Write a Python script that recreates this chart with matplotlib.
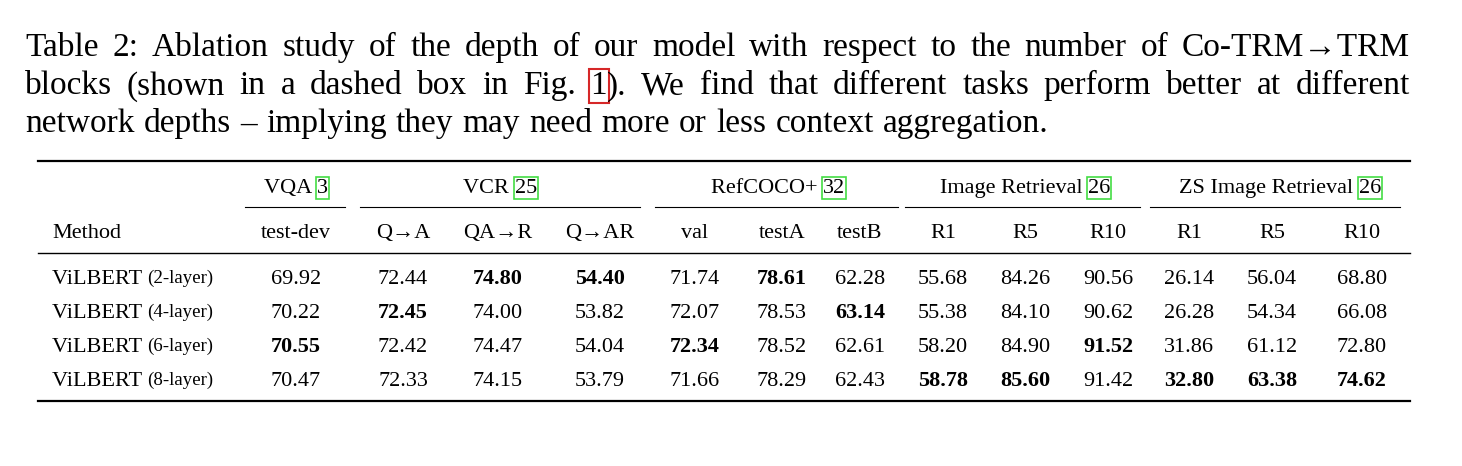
import matplotlib
matplotlib.use("Agg")
import matplotlib.pyplot as plt

methods = ["ViLBERT (2-layer)", "ViLBERT (4-layer)", "ViLBERT (6-layer)", "ViLBERT (8-layer)"]
columns = ["test-dev", "Q→A", "QA→R", "Q→AR", "val", "testA", "testB",
           "R1", "R5", "R10", "R1", "R5", "R10"]
values = [
    [69.92, 72.44, 74.80, 54.40, 71.74, 78.61, 62.28, 55.68, 84.26, 90.56, 26.14, 56.04, 68.80],
    [70.22, 72.45, 74.00, 53.82, 72.07, 78.53, 63.14, 55.38, 84.10, 90.62, 26.28, 54.34, 66.08],
    [70.55, 72.42, 74.47, 54.04, 72.34, 78.52, 62.61, 58.20, 84.90, 91.52, 31.86, 61.12, 72.80],
    [70.47, 72.33, 74.15, 53.79, 71.66, 78.29, 62.43, 58.78, 85.60, 91.42, 32.80, 63.38, 74.62],
]
groups = [("VQA", "3"), ("VCR", "25"), ("RefCOCO+", "32"), ("Image Retrieval", "26"), ("ZS Image Retrieval", "26")]
caption = [
    "Table 2: Ablation study of the depth of our model with respect to the number of Co-TRM→TRM",
    "blocks (shown in a dashed box in Fig. [1]). We find that different tasks perform better at different",
    "network depths – implying they may need more or less context aggregation.",
]

W, H = 1462, 466
fig = plt.figure(figsize=(W / 100, H / 100), dpi=100)
fig.patch.set_facecolor("white")
FONT = ["Liberation Serif", "DejaVu Serif"]
renderer = fig.canvas.get_renderer()

def fx(x): return x / W
def fy(y): return 1 - y / H

def txt(x, y, s, size, ha="left", weight="normal", **kw):
    # y is the visual center; place by baseline
    return fig.text(fx(x), fy(y + size * 0.47), s, fontsize=size, ha=ha, va="baseline",
                    family=FONT, weight=weight, **kw)

def width(s, size, weight="normal"):
    t = fig.text(0, 0, s, fontsize=size, family=FONT, weight=weight)
    w = t.get_window_extent(renderer).width
    t.remove()
    return w

# caption (justified)
CS = 24
left, right = 25, 1410
ys = [45, 83, 121]
for i, line in enumerate(caption):
    words = line.split(" ")
    ws = [width(w.replace("[", "").replace("]", ""), CS) for w in words]
    if i < 2:
        gap = (right - left - sum(ws)) / (len(words) - 1)
    else:
        gap = width(" ", CS) * 1.1
    x = left
    for w, wd in zip(words, ws):
        if "[" in w:
            pre, rest = w.split("[")
            num, post = rest.split("]")
            txt(x, ys[i], pre, CS)
            x2 = x + width(pre, CS)
            txt(x2, ys[i], num, CS, bbox=dict(boxstyle="square,pad=0.05", fc="none", ec="#d62728", lw=1.5))
            x2 += width(num, CS)
            txt(x2, ys[i], post, CS)
        else:
            txt(x, ys[i], w, CS)
        x += wd + gap

# table
TS = 16
xl, xr = 38, 1410
for y, lw in [(161, 1.6), (253, 1.0), (401, 1.6)]:
    fig.add_artist(plt.Line2D([fx(xl), fx(xr)], [fy(y), fy(y)], color="black", lw=lw))

col_x = [296, 403, 498, 600, 695, 782, 860, 943, 1025, 1108, 1189, 1272, 1362]
group_c = [296, 500, 778, 1025, 1280]
group_span = [(245, 345), (360, 640), (655, 898), (905, 1140), (1150, 1400)]
for (name, ref), c, (a, b) in zip(groups, group_c, group_span):
    wn = width(name + " ", TS)
    wr = width(ref, TS)
    x0 = c - (wn + wr) / 2
    txt(x0, 185, name + " ", TS)
    txt(x0 + wn, 185, ref, TS, bbox=dict(boxstyle="square,pad=0.05", fc="none", ec="#44dd44", lw=1.2))
    fig.add_artist(plt.Line2D([fx(a), fx(b)], [fy(207), fy(207)], color="black", lw=0.8))

txt(52, 230, "Method", TS)
for c, x in zip(columns, col_x):
    txt(x, 230, c, TS, ha="center")

row_y = [276, 310, 344, 378]
best = [max(values[r][j] for r in range(len(values))) for j in range(len(columns))]
for r, (m, y) in enumerate(zip(methods, row_y)):
    txt(52, y, "ViLBERT ", TS)
    txt(52 + width("ViLBERT ", TS), y + 1, m.split(" ", 1)[1], TS * 0.85)
    for j, x in enumerate(col_x):
        v = values[r][j]
        txt(x, y, f"{v:.2f}", TS, ha="center", weight="bold" if v == best[j] else "normal")

fig.savefig("out.png", dpi=100)
